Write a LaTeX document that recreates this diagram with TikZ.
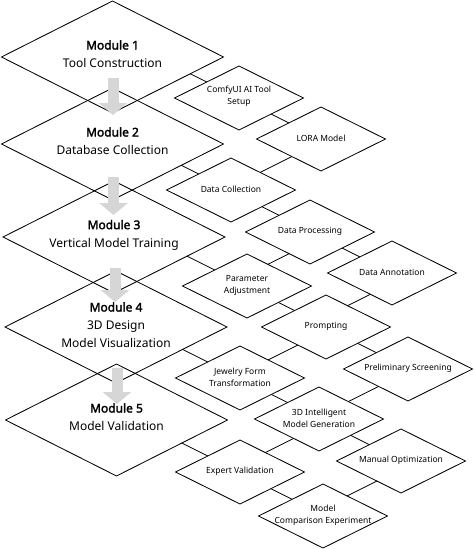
\documentclass[tikz,border=0pt]{standalone}
\usepackage{fontspec}
\setmainfont{Noto Sans}[AutoFakeBold=2.2]
\usetikzlibrary{shapes.geometric,calc,arrows.meta}
\definecolor{arrgray}{RGB}{214,214,214}
\tikzset{
  bigd/.style={diamond, draw, line width=0.85pt, minimum width=222pt, minimum height=112pt, inner sep=0pt, outer sep=0pt},
  smalld/.style={diamond, draw, line width=0.85pt, minimum width=129pt, minimum height=64pt, inner sep=0pt, outer sep=0pt},
  modtext/.style={align=center, inner sep=0pt, font=\fontsize{12}{18}\selectfont},
  subtext/.style={align=center, inner sep=0pt, font=\fontsize{8.5}{12}\selectfont},
  conn/.style={line width=0.85pt},
  bigarrow/.style={draw=arrgray, line width=11pt, -{Triangle[width=28pt,length=12pt]}}
}
\newcommand\linkR[3]{%
  \coordinate (p#1#2) at ($(#1.south east)!#3!(#2.north west)$);
  \coordinate (q#1#2) at ($(p#1#2)+(2,1)$);
  \draw[conn] (intersection of #1.east--#1.south and p#1#2--q#1#2) -- (intersection of #2.west--#2.north and p#1#2--q#1#2);}
\newcommand\linkL[3]{%
  \coordinate (p#1#2) at ($(#1.south west)!#3!(#2.north east)$);
  \coordinate (q#1#2) at ($(p#1#2)+(-2,1)$);
  \draw[conn] (intersection of #1.west--#1.south and p#1#2--q#1#2) -- (intersection of #2.east--#2.north and p#1#2--q#1#2);}
\begin{document}
\begin{tikzpicture}[x=1pt,y=-1pt]
\useasboundingbox (0,0) rectangle (474,549);
% modules
\node[bigd] (M1) at (112.5,57) {};
\node[bigd] (M2) at (112.5,144) {};
\node[bigd] (M3) at (114,237) {};
\node[bigd] (M4) at (116,327) {};
\node[bigd] (M5) at (116.5,420) {};
\node[modtext] (t1) at ($(M1)+(0,-3)$) {\textbf{Module 1}\\Tool Construction};
\node[modtext] (t2) at ($(M2)+(0,-3)$) {\textbf{Module 2}\\Database Collection};
\node[modtext] (t3) at ($(M3)+(0,-2)$) {\textbf{Module 3}\\Vertical Model Training};
\node[modtext] (t4) at ($(M4)+(0,-2)$) {\textbf{Module 4}\\3D Design\\Model Visualization};
\node[modtext] (t5) at ($(M5)+(0,-3)$) {\textbf{Module 5}\\Model Validation};
% arrows between modules
\coordinate (a1s) at (113,78);  \coordinate (a1e) at (113,115);
\coordinate (a2s) at (113.5,177); \coordinate (a2e) at (113.5,215);
\coordinate (a3s) at (115,268); \coordinate (a3e) at (115,302);
\coordinate (a4s) at (117,368); \coordinate (a4e) at (117,404);
\draw[bigarrow] (a1s) -- (a1e);
\draw[bigarrow] (a2s) -- (a2e);
\draw[bigarrow] (a3s) -- (a3e);
\draw[bigarrow] (a4s) -- (a4e);
% sub steps
\node[smalld] (CU) at (239,98) {};
\node[smalld] (LO) at (321,139) {};
\node[smalld] (DC) at (231,190) {};
\node[smalld] (DP) at (310,232) {};
\node[smalld] (DA) at (392,273) {};
\node[smalld] (PA) at (247,286) {};
\node[smalld] (PR) at (326,327) {};
\node[smalld] (PS) at (408,369) {};
\node[smalld] (JF) at (240,378) {};
\node[smalld] (TD) at (319,419) {};
\node[smalld] (MO) at (401,461) {};
\node[smalld] (EV) at (240,472) {};
\node[smalld] (MC) at (323,516) {};
\node[subtext] at ($(CU)+(0,-2)$) {ComfyUI AI Tool\\Setup};
\node[subtext] at ($(LO)+(0,-1)$) {LORA Model};
\node[subtext] at ($(DC)+(0,-1)$) {Data Collection};
\node[subtext] at ($(DP)+(0,-1)$) {Data Processing};
\node[subtext] at ($(DA)+(0,-1)$) {Data Annotation};
\node[subtext] at ($(PA)+(0,-1)$) {Parameter\\Adjustment};
\node[subtext] at ($(PR)+(0,-1)$) {Prompting};
\node[subtext] at ($(PS)+(0,-1)$) {Preliminary Screening};
\node[subtext] at ($(JF)+(0,-1)$) {Jewelry Form\\Transformation};
\node[subtext] at ($(TD)+(0,-1)$) {3D Intelligent\\Model Generation};
\node[subtext] at ($(MO)+(0,-1)$) {Manual Optimization};
\node[subtext] at ($(EV)+(0,-1)$) {Expert Validation};
\node[subtext] at ($(MC)+(0,-1)$) {Model\\Comparison Experiment};
% connectors
\linkR{M1}{CU}{1}
\linkR{CU}{LO}{0.5}
\linkR{M2}{DC}{1}
\linkR{DC}{DP}{0.5}
\linkR{DP}{DA}{0.5}
\linkR{M3}{PA}{1}
\linkR{PA}{PR}{0.5}
\linkR{PR}{PS}{0.5}
\linkR{M4}{JF}{1}
\linkR{JF}{TD}{0.5}
\linkR{TD}{MO}{0.5}
\linkR{M5}{EV}{1}
\linkR{EV}{MC}{0.5}
\linkL{LO}{DC}{0.5}
\linkL{DP}{PA}{0.5}
\linkL{DA}{PR}{0.5}
\linkL{PR}{JF}{0.5}
\linkL{PS}{TD}{0.5}
\linkL{TD}{EV}{0.5}
\linkL{MO}{MC}{0.5}
\end{tikzpicture}
\end{document}
